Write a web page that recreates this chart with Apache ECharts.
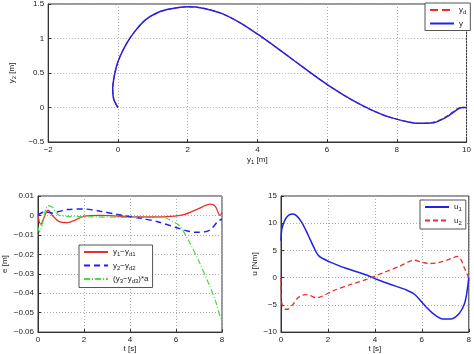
<!DOCTYPE html>
<html>
<head>
<meta charset="utf-8">
<script src="https://cdn.jsdelivr.net/npm/echarts@6/dist/echarts.min.js"></script>
<style>
  html, body { margin: 0; padding: 0; background: #fff; }
  #chart { width: 474px; height: 354px; }
</style>
</head>
<body>
<div id="chart"></div>
<script>
// top plot: path in the plane (y1, y2)
var pathY1 = [0, -0.12, -0.15, -0.12, -0.05, 0.06, 0.25, 0.48, 0.79, 1.16, 1.52, 1.98, 2.44, 2.99, 3.53, 4.03, 4.53, 5.08, 5.62, 6.16, 6.71, 7.25, 7.79, 8.33, 8.6, 9.06, 9.42, 9.7, 9.84, 10];
var pathY2 = [0, 0.12, 0.27, 0.41, 0.58, 0.74, 0.93, 1.10, 1.27, 1.38, 1.43, 1.46, 1.44, 1.36, 1.22, 1.055, 0.875, 0.67, 0.47, 0.28, 0.11, -0.03, -0.14, -0.21, -0.23, -0.22, -0.14, -0.04, -0.005, 0];
var refY1 = [0, -0.12, -0.15, -0.12, -0.05, 0.06, 0.25, 0.48, 0.79, 1.16, 1.52, 1.98, 2.44, 2.99, 3.53, 4.03, 4.53, 5.08, 5.62, 6.16, 6.71, 7.25, 7.79, 8.33, 8.6, 9.06, 9.42, 9.7, 9.86, 10];
var refY2 = [0, 0.12, 0.27, 0.41, 0.58, 0.74, 0.93, 1.10, 1.27, 1.38, 1.43, 1.46, 1.44, 1.36, 1.22, 1.055, 0.875, 0.67, 0.47, 0.28, 0.11, -0.03, -0.14, -0.21, -0.23, -0.21, -0.13, -0.03, 0.005, 0];

// bottom left: tracking errors
var e1T = [0, 0.11, 0.44, 0.65, 0.93, 1.28, 1.64, 2.0, 2.7, 3.3, 4.11, 5.0, 5.95, 6.37, 6.94, 7.5, 7.71, 7.85, 7.92, 8];
var e1V = [0, -0.0045, 0.0027, -0.0003, -0.0032, -0.0037, -0.0023, -0.0003, 0, -0.0002, -0.0007, -0.0008, -0.0003, 0.0005, 0.0033, 0.0058, 0.0047, 0.001, 0, 0.0015];
var e2T = [0, 0.3, 0.6, 0.9, 1.28, 2.0, 2.7, 3.4, 3.97, 4.5, 5.2, 6.0, 6.5, 6.86, 7.43, 7.85, 8];
var e2V = [0.0003, 0.002, 0.0012, 0.002, 0.003, 0.0033, 0.0022, 0.0006, -0.0005, -0.0015, -0.0032, -0.0062, -0.008, -0.0087, -0.0078, -0.0028, -0.002];
var e3T = [0, 0.07, 0.17, 0.44, 0.65, 0.86, 1.3, 2.3, 4.0, 5.0, 5.52, 5.8, 6.16, 6.58, 7.0, 7.43, 7.71, 7.92, 8];
var e3V = [-0.006, -0.0085, -0.005, 0.005, 0.004, 0.0005, -0.0005, -0.0007, -0.001, -0.001, -0.0012, -0.0028, -0.0053, -0.0137, -0.0237, -0.0353, -0.0437, -0.052, -0.0535];

// bottom right: control inputs
var u1T = [0, 0.04, 0.18, 0.33, 0.51, 0.68, 0.89, 1.17, 1.39, 1.6, 2.02, 2.8, 3.65, 4.07, 4.64, 5.34, 5.7, 6.05, 6.47, 6.9, 7.25, 7.6, 7.82, 7.93, 8];
var u1V = [6.8, 9, 10.7, 11.5, 11.7, 11.3, 10.1, 7.7, 5.65, 4.05, 3.0, 1.67, 0.48, -0.3, -1.2, -2.26, -3.1, -4.76, -6.55, -7.6, -7.6, -6.55, -4.76, -2.4, 0];
var u2T = [0, 0.01, 0.06, 0.18, 0.28, 0.47, 0.75, 1.03, 1.24, 1.53, 1.81, 2.23, 2.94, 3.65, 4.35, 5.06, 5.48, 5.7, 5.98, 6.33, 6.76, 7.18, 7.53, 7.67, 7.8, 8];
var u2V = [0, -3.6, -5.1, -5.8, -5.8, -5.1, -3.6, -3.1, -3.3, -3.7, -3.3, -2.4, -1.3, -0.3, 0.9, 2.1, 3.0, 3.2, 2.86, 2.6, 2.8, 3.4, 3.9, 3.3, 1.9, 0];

function pairs(xs, ys) {
    return xs.map(function (x, i) { return [x, ys[i]]; });
}

var FONT = 'Liberation Sans';
var rich = {
    n: {fontSize: 8, fontFamily: FONT, color: '#222', verticalAlign: 'middle'},
    s: {fontSize: 6, fontFamily: FONT, color: '#222', padding: [5, 0, 0, 0], verticalAlign: 'middle'}
};
var legendNames = {
    'yd': '{n|y}{s|d}',
    'y': '{n|y}',
    'e1': '{n|y}{s|1}{n|\u2212y}{s|d1}',
    'e2': '{n|y}{s|2}{n|\u2212y}{s|d2}',
    'e3': '{n|(y}{s|3}{n|\u2212y}{s|d3}{n|)*a}',
    'u1': '{n|u}{s|1}',
    'u2': '{n|u}{s|2}'
};

function minus(s) { return String(s).replace('-', '\u2212'); }

function axis(gi, min, max, step, name, gap, fmt) {
    return {
        type: 'value', gridIndex: gi, min: min, max: max, interval: step,
        name: name, nameLocation: 'middle', nameGap: gap,
        nameTextStyle: {rich: rich, fontSize: 8, fontFamily: FONT, color: '#222'},
        axisLine: {show: true, onZero: false, lineStyle: {color: '#333', width: 1}},
        axisTick: {show: true, inside: true, length: 3, lineStyle: {color: '#333'}},
        axisLabel: {fontSize: 8, fontFamily: FONT, color: '#222', margin: 4,
            formatter: fmt || function (v) { return minus(v); }},
        splitLine: {show: true, lineStyle: {color: '#aab', type: [1, 2], width: 1}}
    };
}

function legend(names, left, top) {
    return {
        data: names, left: left, top: top, orient: 'vertical',
        backgroundColor: '#fff', borderColor: '#555', borderWidth: 1,
        padding: [3, 4, 3, 4], itemGap: 4, itemWidth: 24, itemHeight: 8,
        itemStyle: {opacity: 0},
        formatter: function (n) { return legendNames[n]; },
        textStyle: {rich: rich, fontSize: 8, fontFamily: FONT, color: '#222'}
    };
}

function line(name, data, xi, color, width, type) {
    return {
        name: name, type: 'line', xAxisIndex: xi, yAxisIndex: xi, data: data,
        symbol: 'circle', showSymbol: false, smooth: 0.3, animation: false,
        lineStyle: {color: color, width: width, type: type},
        itemStyle: {color: color}
    };
}

var chart = echarts.init(document.getElementById('chart'));
var option = {
    backgroundColor: '#fff',
    animation: false,
    grid: [
        {left: 32, top: 2, width: 438, height: 140, show: true, borderColor: '#333', borderWidth: 1},
        {left: 33, top: 196, width: 189, height: 140, show: true, borderColor: '#333', borderWidth: 1},
        {left: 281, top: 196, width: 189, height: 140, show: true, borderColor: '#333', borderWidth: 1}
    ],
    xAxis: [
        axis(0, -2, 10, 2, '{n|y}{s|1}{n| [m]}', 12),
        axis(1, 0, 8, 2, 't [s]', 11),
        axis(2, 0, 8, 2, 't [s]', 11)
    ],
    yAxis: [
        axis(0, -0.5, 1.5, 0.5, '{n|y}{s|2}{n| [m]}', 22),
        axis(1, -0.06, 0.01, 0.01, 'e [m]', 29, function (v) {
            return v === 0 ? '0' : minus(v.toFixed(2));
        }),
        axis(2, -10, 15, 5, 'u [Nm]', 22)
    ],
    legend: [
        legend(['yd', 'y'], 425, 3),
        legend(['e1', 'e2', 'e3'], 79, 245),
        legend(['u1', 'u2'], 420, 200)
    ],
    series: [
        line('yd', pairs(refY1, refY2), 0, '#e8302a', 1.2, 'dashed'),
        line('y', pairs(pathY1, pathY2), 0, '#2222e6', 1.5, 'solid'),
        line('e1', pairs(e1T, e1V), 1, '#e8302a', 1.3, 'solid'),
        line('e2', pairs(e2T, e2V), 1, '#2222e6', 1.5, [6, 4]),
        line('e3', pairs(e3T, e3V), 1, '#44dd44', 1.2, [6, 2, 1, 2]),
        line('u1', pairs(u1T, u1V), 2, '#2222e6', 1.5, 'solid'),
        line('u2', pairs(u2T, u2V), 2, '#e8302a', 1.3, [5, 3])
    ]
};
chart.setOption(option);
</script>
</body>
</html>
